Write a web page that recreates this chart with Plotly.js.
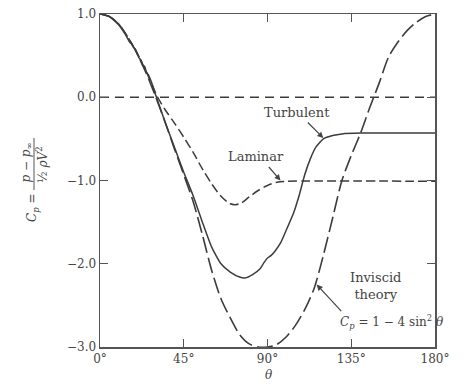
<!DOCTYPE html>
<html>
<head>
<meta charset="utf-8">
<script src="https://cdn.plot.ly/plotly-3.0.1.min.js"></script>
<style>html,body{margin:0;padding:0;background:#fff;}</style>
</head>
<body>
<div id="chart" style="width:474px;height:391px;"></div>
<script>
// Inviscid theory (long dashes)
const invTheta = [0,5,10,15,20,25,30,35,40,45,50,55,60,65,70,75,80,85,90,95,100,105,110,115,120,125,130,135,140,145,150,155,160,165,170,175,180];
const invCp    = [1.0,0.97,0.88,0.72,0.52,0.28,0.0,-0.3,-0.62,-0.93,-1.25,-1.65,-2.08,-2.42,-2.65,-2.85,-2.96,-3.0,-3.0,-2.97,-2.88,-2.74,-2.55,-2.3,-1.9,-1.45,-1.0,-0.7,-0.43,-0.12,0.17,0.48,0.66,0.8,0.9,0.97,1.0];

// Turbulent (solid)
const turbTheta = [0,5,10,14,16,17,18,19,20,21,22,23,24,25,26,27,28,30,35,40,45,50,55,60,65,70,75,78,82,86,88,90,92,94,97,100,104,107,110,113,116,120,125,130,140,180];
const turbCp    = [1.0,0.97,0.87,0.74,0.66,0.64,0.6,0.58,0.52,0.47,0.45,0.38,0.37,0.3,0.27,0.22,0.16,0.02,-0.3,-0.6,-0.9,-1.18,-1.5,-1.8,-2.0,-2.1,-2.16,-2.17,-2.13,-2.06,-1.99,-1.93,-1.9,-1.85,-1.75,-1.6,-1.39,-1.18,-0.93,-0.74,-0.6,-0.5,-0.46,-0.44,-0.43,-0.43];

// Laminar (short dashes)
const lamTheta = [0,5,10,15,20,25,31,35,40,45,50,55,60,65,70,73,76,80,85,90,95,100,180];
const lamCp    = [1.0,0.97,0.88,0.72,0.53,0.3,0.0,-0.15,-0.31,-0.48,-0.66,-0.86,-1.04,-1.19,-1.28,-1.29,-1.27,-1.2,-1.12,-1.06,-1.02,-1.01,-1.01];

// Reference line Cp = 0
const zeroTheta = [0,180];
const zeroCp    = [0,0];

const xTickVals = [0,45,90,135,180];
const xTickText = ['0°','45°','90°','135°','180°'];
const yTickVals = [1,0,-1,-2,-3];
const yTickText = ['1.0','0.0','\u22121.0','\u22122.0','\u22123.0'];

const ink = '#3c3c3c';
const FONT = 'DejaVu Serif';

const traces = [
  {x: zeroTheta, y: zeroCp, mode:'lines', line:{color:ink, width:1.4, dash:'9px,6px'}, hoverinfo:'skip'},
  {x: invTheta, y: invCp, mode:'lines', line:{color:ink, width:1.6, dash:'16px,5px', shape:'spline', smoothing:0.8}},
  {x: lamTheta, y: lamCp, mode:'lines', line:{color:ink, width:1.5, dash:'9px,4px', shape:'spline', smoothing:0.8}},
  {x: turbTheta, y: turbCp, mode:'lines', line:{color:ink, width:1.5, shape:'spline', smoothing:0.5}}
];

const axisCommon = {
  showline:true, mirror:'ticks', linecolor:'#555', linewidth:1.5,
  ticks:'inside', ticklen:8, tickwidth:1.3, tickcolor:'#555',
  showgrid:false, zeroline:false,
  tickfont:{family:FONT, size:12, color:'#444'}
};

const px = X => (X-100)/335;
const py = Y => (347-Y)/333;
const tf = (s) => ({size:s, family:FONT, color:'#444'});
const arrow = (x, y, ax, ay) => ({x:x, y:y, ax:ax, ay:ay, text:'', showarrow:true, arrowhead:2, arrowsize:1, arrowwidth:1.2, arrowcolor:'#444', standoff:0, startstandoff:0});

const layout = {
  width:474, height:391,
  margin:{l:100, r:39, t:14, b:44},
  paper_bgcolor:'#fff', plot_bgcolor:'#fff',
  showlegend:false,
  xaxis: Object.assign({}, axisCommon, {range:[0,180], tickvals:xTickVals, ticktext:xTickText}),
  yaxis: Object.assign({}, axisCommon, {range:[-3,1], tickvals:yTickVals, ticktext:yTickText}),
  font:{family:FONT, color:'#444'},
  shapes:[
    {type:'line', xref:'paper', yref:'paper', x0:px(34), x1:px(34), y0:py(190), y1:py(138), line:{color:'#555', width:1}}
  ],
  annotations:[
    {xref:'paper', yref:'paper', x:px(269), y:py(384), text:'<i>θ</i>', showarrow:false, font:tf(12)},
    {xref:'paper', yref:'paper', x:px(33), y:py(208), text:'<i>C</i><sub><i>p</i></sub> =', textangle:-90, showarrow:false, xanchor:'center', yanchor:'middle', font:tf(12)},
    {xref:'paper', yref:'paper', x:px(26.5), y:py(163), text:'<i>p</i> − <i>p</i><sub>∞</sub>', textangle:-90, showarrow:false, xanchor:'center', yanchor:'middle', font:tf(12)},
    {xref:'paper', yref:'paper', x:px(42), y:py(164), text:'½ <i>ρV</i><sup>2</sup>', textangle:-90, showarrow:false, xanchor:'center', yanchor:'middle', font:tf(12)},

    {x:105.6, y:-0.18, text:'Turbulent', showarrow:false, font:tf(13)},
    {x:84, y:-0.71, text:'Laminar', showarrow:false, font:tf(13)},
    {x:147.8, y:-2.27, text:'Inviscid<br>theory', showarrow:false, font:tf(13)},
    {x:157, y:-2.7, text:'<i>C</i><sub><i>p</i></sub> = 1 − 4 sin<sup>2</sup> <i>θ</i>', showarrow:false, font:tf(12)},

    arrow(120, -0.49, -17, -17),
    arrow(97.0, -1.0, -13, -15),
    arrow(116.4, -2.25, 26, 28)
  ]
};

Plotly.newPlot('chart', traces, layout, {staticPlot:true, displayModeBar:false});
</script>
</body>
</html>
